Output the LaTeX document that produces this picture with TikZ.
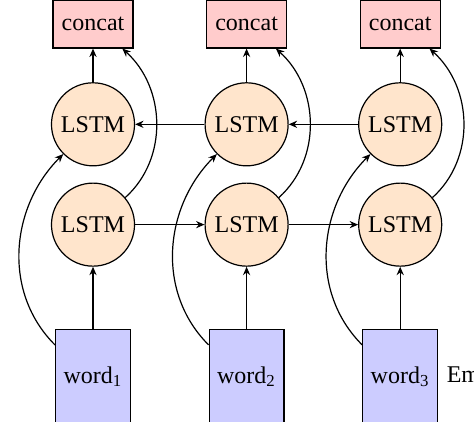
\documentclass[tikz,border=0pt]{standalone}
\usepackage{fontspec}
\setmainfont{Liberation Serif}
\usetikzlibrary{positioning,arrows.meta}
\tikzset{
  lstm/.style={circle, draw, fill=orange!20, minimum size=34.6pt, inner sep=0pt, line width=0.5pt},
  concatbox/.style={rectangle, draw, fill=red!20, minimum width=33.3pt, minimum height=20pt, line width=0.5pt},
  wordbox/.style={rectangle, draw, fill=blue!20, minimum width=30.4pt, minimum height=39.2pt, line width=0.5pt},
  flow/.style={-{Stealth[length=3.5pt,width=3pt]}, line width=0.5pt},
}

\begin{document}
\begin{tikzpicture}
    \clip (0,0) rectangle (197.5pt,-175.8pt);
    % column 1
    \node [concatbox] (c1) at (38.75pt,-10pt) {concat};
    \node [lstm, below=14pt of c1] (lt1) {LSTM};
    \node [lstm, below=6.7pt of lt1] (lb1) {LSTM};
    \node [wordbox, below=26pt of lb1] (w1) {word\textsubscript{1}};
    % column 2
    \node [concatbox, right=30.2pt of c1] (c2) {concat};
    \node [lstm, below=14pt of c2] (lt2) {LSTM};
    \node [lstm, below=6.7pt of lt2] (lb2) {LSTM};
    \node [wordbox, below=26pt of lb2] (w2) {word\textsubscript{2}};
    % column 3
    \node [concatbox, right=30.2pt of c2] (c3) {concat};
    \node [lstm, below=14pt of c3] (lt3) {LSTM};
    \node [lstm, below=6.7pt of lt3] (lb3) {LSTM};
    \node [wordbox, below=26pt of lb3] (w3) {word\textsubscript{3}};
    \node [right=0pt of w3] (emb) {Embeddings};

    \draw [flow] (w1) -- (lb1);
    \draw [flow] (w2) -- (lb2);
    \draw [flow] (w3) -- (lb3);
    \draw [flow] (lt1) -- (c1);
    \draw [flow] (lt2) -- (c2);
    \draw [flow] (lt3) -- (c3);
    \draw [flow] (lb1) -- (lb2);
    \draw [flow] (lb2) -- (lb3);
    \draw [flow] (lt3) -- (lt2);
    \draw [flow] (lt2) -- (lt1);

    \draw [flow] (w1.140) to [out=135, in=-135] (lt1.-135);
    \draw [flow] (w2.140) to [out=135, in=-135] (lt2.-135);
    \draw [flow] (w3.140) to [out=135, in=-135] (lt3.-135);
    \draw [flow] (lb1.40) to [out=42, in=-42] (c1.-40);
    \draw [flow] (lb2.40) to [out=42, in=-42] (c2.-40);
    \draw [flow] (lb3.40) to [out=42, in=-42] (c3.-40);
\end{tikzpicture}
\end{document}
